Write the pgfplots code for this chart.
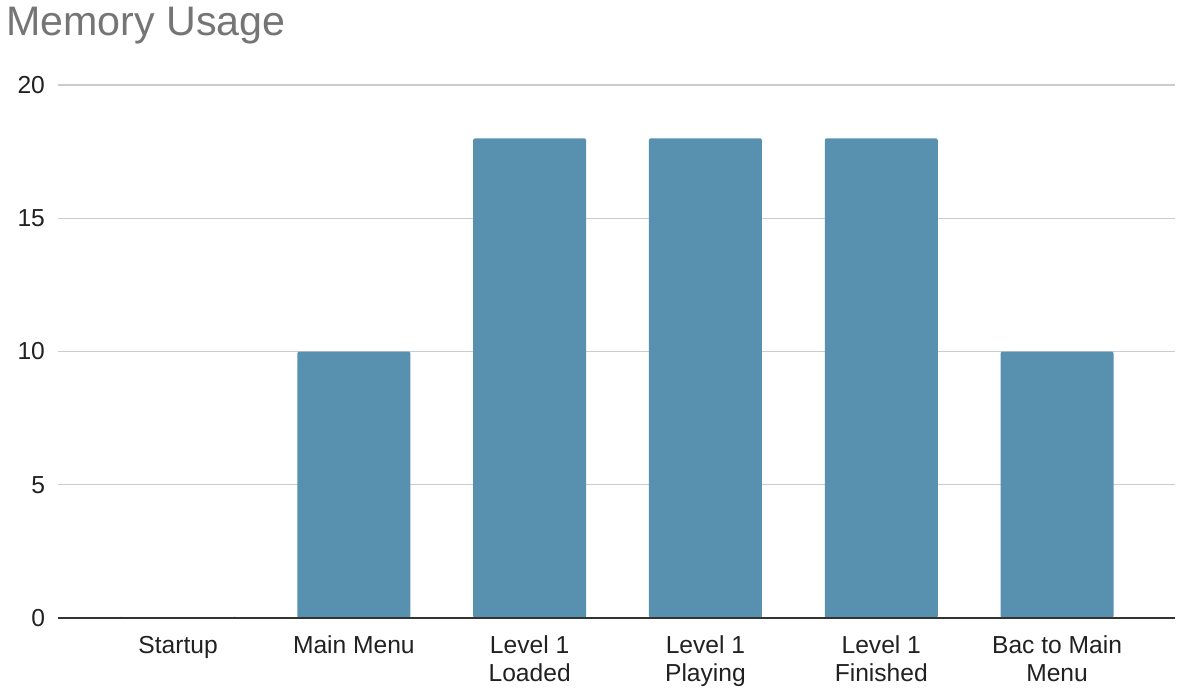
\documentclass[border=0pt]{standalone}
\usepackage{pgfplots}
\pgfplotsset{compat=1.18}
\usepackage{fontspec}
\setmainfont{Liberation Sans}
\definecolor{barblue}{HTML}{5891AF}
\definecolor{gridgray}{HTML}{CCCCCC}
\definecolor{titlegray}{HTML}{757575}
\definecolor{axisdark}{HTML}{333333}
\begin{document}
\begin{tikzpicture}
\path[use as bounding box] (0,0) rectangle (593pt,348pt);
\node[anchor=north west, inner sep=0pt, text=titlegray, font=\fontsize{20.6}{24}\selectfont] at (3pt,344.5pt) {Memory Usage};
\begin{axis}[
  at={(29pt,39pt)}, anchor=south west,
  scale only axis,
  width=558.5pt, height=266.5pt,
  xmin=-0.683, xmax=5.671,
  ymin=0, ymax=20,
  ytick={0,5,10,15,20},
  xtick={0,1,2,3,4,5},
  xticklabels={Startup,Main Menu,{Level 1\\Loaded},{Level 1\\Playing},{Level 1\\Finished},{Bac to Main\\Menu}},
  axis line style={draw=none},
  axis x line*=bottom,
  axis y line*=left,
  major tick length=0pt,
  ymajorgrids,
  grid style={gridgray, line width=0.6pt},
  tick label style={font=\fontsize{12.3}{14}\selectfont, text=black!87},
  xticklabel style={align=center, yshift=-5.5pt},
  yticklabel style={xshift=-3pt},
  /pgf/number format/assume math mode=true,
  ybar, bar width=56.5pt,
]
\addplot[fill=barblue, draw=none, rounded corners=1pt] coordinates {(0,0) (1,10) (2,18) (3,18) (4,18) (5,10)};
\draw[axisdark, line width=0.8pt] (axis cs:-0.683,0) -- (axis cs:5.671,0);
\end{axis}
\end{tikzpicture}
\end{document}
